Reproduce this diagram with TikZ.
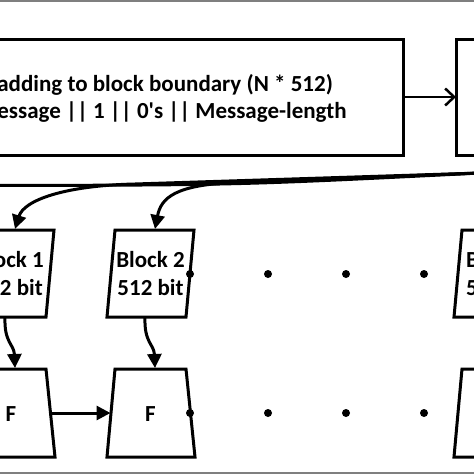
\documentclass[tikz,border=0pt]{standalone}
\usepackage{fontspec}
\setmainfont{Carlito}[Ligatures=TeXOff]
\usetikzlibrary{arrows.meta}

\definecolor{rulegray}{HTML}{7F7F7F}

\tikzset{
  box/.style={draw, line width=3pt, outer sep=0pt, inner sep=0pt, minimum height=116pt},
  lbl/.style={font=\bfseries\fontsize{23}{28}\selectfont, inner sep=0pt},
  shp/.style={draw, line width=3pt, line join=miter},
  flow/.style={line width=3pt, -{Triangle[length=14pt,width=14pt]}},
  link/.style={line width=2pt, -{Straight Barb[length=9pt,width=17pt,line width=2.5pt]}},
  dot/.style={circle, fill, inner sep=0pt, minimum size=8pt},
}

\begin{document}
\begin{tikzpicture}[x=1pt, y=-1pt]
  \useasboundingbox (0,0) rectangle (474,474);
  \clip (0,0) rectangle (474,474);

  % frame lines of the cut-out
  \fill[rulegray] (0,0) rectangle (474,2);
  \fill[rulegray] (0,472) rectangle (474,474);

  % padding box and the next box
  \node[box, anchor=east, minimum width=460pt] (pad) at (403,97) {};
  \node[box, anchor=west, minimum width=80pt] (nxt) at (456,97) {};
  \node[lbl, anchor=base east] (padtxt) at (333,91) {adding to block boundary (N * 512)};
  \node[lbl, anchor=base east] (msgtxt) at (347,118) {essage || 1 || 0's || Message-length};
  \draw[link] (pad.east) -- (nxt.west);

  % message blocks and compression boxes
  \foreach \dx/\nm in {-140/1, 0/2, 347/n} {
    \draw[shp] (115+\dx,230) -- (194+\dx,230) -- (186+\dx,317) -- (107+\dx,317) -- cycle;
    \draw[shp] (115+\dx,369) -- (186+\dx,369) -- (195+\dx,457) -- (107+\dx,457) -- cycle;
    \coordinate (blk\nm-in) at (155+\dx,229);
    \coordinate (blk\nm-out) at (145+\dx,317);
    \coordinate (f\nm-in) at (155+\dx,368);
  }
  \coordinate (f1-out) at (50.5,413);
  \coordinate (f2-side) at (110.5,413);

  \node[lbl, anchor=base east] (b1a) at (44,267) {ock 1};
  \node[lbl, anchor=base east] (b1b) at (43,295) {2 bit};
  \node[lbl, anchor=base] (b2a) at (150.5,267) {Block 2};
  \node[lbl, anchor=base] (b2b) at (150.5,295) {512 bit};
  \node[lbl, anchor=base west] (bna) at (466,267) {B};
  \node[lbl, anchor=base west] (bnb) at (466,295) {5};
  \node[lbl, anchor=base] (f1txt) at (11,421) {F};
  \node[lbl, anchor=base] (f2txt) at (150.5,421) {F};

  % split of the padded message
  \coordinate (src) at (480,173);
  \coordinate (lft) at (-10,185.5);
  \draw[line width=3pt] (src) .. controls (240,185) .. (lft);
  \draw[flow] (src) -- (235,182.5) .. controls (175,184.8) and (161,198) .. (blk2-in);
  \draw[flow] (src) -- (135,184) .. controls (65,185.5) and (24,200) .. (blk1-in);

  % block into F, chaining
  \draw[flow] (blk1-out) .. controls +(-1,26) and +(-1,-24) .. (f1-in);
  \draw[flow] (blk2-out) .. controls +(-1,26) and +(-1,-24) .. (f2-in);
  \draw[flow] (f1-out) -- (f2-side);

  % ellipsis dots
  \foreach \x in {190,268,346,424} {
    \node[dot] (up\x) at (\x,274) {};
    \node[dot] (lo\x) at (\x,413) {};
  }
\end{tikzpicture}
\end{document}
